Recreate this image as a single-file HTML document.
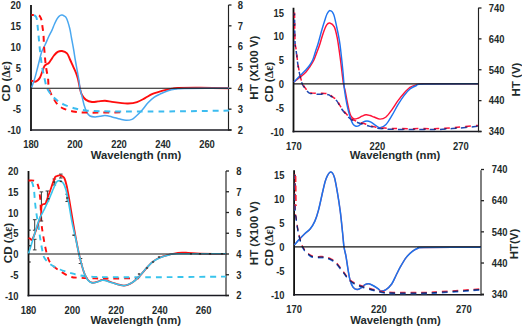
<!DOCTYPE html>
<html><head><meta charset="utf-8"><style>
html,body{margin:0;padding:0;background:#fff;width:522px;height:328px;overflow:hidden}
svg{display:block}
</style></head><body>
<svg width="522" height="328" viewBox="0 0 522 328">
<rect width="522" height="328" fill="#fff"/>
<line x1="31" y1="5" x2="31" y2="130.9" stroke="#111" stroke-width="1.8"/>
<line x1="30.1" y1="130" x2="231.5" y2="130" stroke="#1a1a22" stroke-width="1.45"/>
<line x1="228.5" y1="5" x2="228.5" y2="130.7" stroke="#222" stroke-width="1.15"/>
<line x1="228.5" y1="5.0" x2="231.5" y2="5.0" stroke="#222" stroke-width="1.3"/>
<line x1="228.5" y1="25.83" x2="231.5" y2="25.83" stroke="#222" stroke-width="1.3"/>
<line x1="228.5" y1="46.67" x2="231.5" y2="46.67" stroke="#222" stroke-width="1.3"/>
<line x1="228.5" y1="67.5" x2="231.5" y2="67.5" stroke="#222" stroke-width="1.3"/>
<line x1="228.5" y1="88.33" x2="231.5" y2="88.33" stroke="#222" stroke-width="1.3"/>
<line x1="228.5" y1="109.16" x2="231.5" y2="109.16" stroke="#222" stroke-width="1.3"/>
<line x1="228.5" y1="130.0" x2="231.5" y2="130.0" stroke="#222" stroke-width="1.3"/>
<text x="21" y="9.07" font-size="10.0" text-anchor="end" fill="#1e2b2b" font-family="Liberation Sans, sans-serif" font-weight="bold" textLength="10.45" lengthAdjust="spacingAndGlyphs">20</text>
<text x="21" y="29.9" font-size="10.0" text-anchor="end" fill="#1e2b2b" font-family="Liberation Sans, sans-serif" font-weight="bold" textLength="10.45" lengthAdjust="spacingAndGlyphs">15</text>
<text x="21" y="50.73" font-size="10.0" text-anchor="end" fill="#1e2b2b" font-family="Liberation Sans, sans-serif" font-weight="bold" textLength="10.45" lengthAdjust="spacingAndGlyphs">10</text>
<text x="21" y="71.57" font-size="10.0" text-anchor="end" fill="#1e2b2b" font-family="Liberation Sans, sans-serif" font-weight="bold" textLength="5.23" lengthAdjust="spacingAndGlyphs">5</text>
<text x="21" y="92.4" font-size="10.0" text-anchor="end" fill="#1e2b2b" font-family="Liberation Sans, sans-serif" font-weight="bold" textLength="5.23" lengthAdjust="spacingAndGlyphs">0</text>
<text x="21" y="113.23" font-size="10.0" text-anchor="end" fill="#1e2b2b" font-family="Liberation Sans, sans-serif" font-weight="bold" textLength="8.36" lengthAdjust="spacingAndGlyphs">-5</text>
<text x="21" y="134.07" font-size="10.0" text-anchor="end" fill="#1e2b2b" font-family="Liberation Sans, sans-serif" font-weight="bold" textLength="13.58" lengthAdjust="spacingAndGlyphs">-10</text>
<text x="237.8" y="8.8" font-size="10.0" text-anchor="start" fill="#1e2b2b" font-family="Liberation Sans, sans-serif" font-weight="bold" textLength="5.23" lengthAdjust="spacingAndGlyphs">8</text>
<text x="237.8" y="29.63" font-size="10.0" text-anchor="start" fill="#1e2b2b" font-family="Liberation Sans, sans-serif" font-weight="bold" textLength="5.23" lengthAdjust="spacingAndGlyphs">7</text>
<text x="237.8" y="50.47" font-size="10.0" text-anchor="start" fill="#1e2b2b" font-family="Liberation Sans, sans-serif" font-weight="bold" textLength="5.23" lengthAdjust="spacingAndGlyphs">6</text>
<text x="237.8" y="71.3" font-size="10.0" text-anchor="start" fill="#1e2b2b" font-family="Liberation Sans, sans-serif" font-weight="bold" textLength="5.23" lengthAdjust="spacingAndGlyphs">5</text>
<text x="237.8" y="92.13" font-size="10.0" text-anchor="start" fill="#1e2b2b" font-family="Liberation Sans, sans-serif" font-weight="bold" textLength="5.23" lengthAdjust="spacingAndGlyphs">4</text>
<text x="237.8" y="112.96" font-size="10.0" text-anchor="start" fill="#1e2b2b" font-family="Liberation Sans, sans-serif" font-weight="bold" textLength="5.23" lengthAdjust="spacingAndGlyphs">3</text>
<text x="237.8" y="133.8" font-size="10.0" text-anchor="start" fill="#1e2b2b" font-family="Liberation Sans, sans-serif" font-weight="bold" textLength="5.23" lengthAdjust="spacingAndGlyphs">2</text>
<text x="31" y="148.1" font-size="10.0" text-anchor="middle" fill="#1e2b2b" font-family="Liberation Sans, sans-serif" font-weight="bold" textLength="15.68" lengthAdjust="spacingAndGlyphs">180</text>
<text x="75" y="148.1" font-size="10.0" text-anchor="middle" fill="#1e2b2b" font-family="Liberation Sans, sans-serif" font-weight="bold" textLength="15.68" lengthAdjust="spacingAndGlyphs">200</text>
<text x="119" y="148.1" font-size="10.0" text-anchor="middle" fill="#1e2b2b" font-family="Liberation Sans, sans-serif" font-weight="bold" textLength="15.68" lengthAdjust="spacingAndGlyphs">220</text>
<text x="163" y="148.1" font-size="10.0" text-anchor="middle" fill="#1e2b2b" font-family="Liberation Sans, sans-serif" font-weight="bold" textLength="15.68" lengthAdjust="spacingAndGlyphs">240</text>
<text x="207" y="148.1" font-size="10.0" text-anchor="middle" fill="#1e2b2b" font-family="Liberation Sans, sans-serif" font-weight="bold" textLength="15.68" lengthAdjust="spacingAndGlyphs">260</text>
<text x="10.2" y="81.3" font-size="11.6" text-anchor="middle" fill="#1e2b2b" font-family="Liberation Sans, sans-serif" font-weight="bold" transform="rotate(-90 10.2 81.3)">CD (<tspan font-family="Liberation Serif, serif" font-weight="bold" font-size="12">&#916;&#949;</tspan>)</text>
<text x="258.5" y="67.7" font-size="11.5" text-anchor="middle" fill="#1e2b2b" font-family="Liberation Sans, sans-serif" font-weight="bold" transform="rotate(-90 258.5 67.7)">HT (X100 V)</text>
<text x="136" y="158.6" font-size="11.8" text-anchor="middle" fill="#1e2b2b" font-family="Liberation Sans, sans-serif" font-weight="bold" textLength="90.5" lengthAdjust="spacingAndGlyphs">Wavelength (nm)</text>
<path d="M31.00 80.60 C31.33 80.70 32.33 81.00 33.00 81.20 C33.67 81.40 34.25 81.92 35.00 81.80 C35.75 81.68 36.67 81.22 37.50 80.50 C38.33 79.78 39.17 79.08 40.00 77.50 C40.83 75.92 41.75 72.92 42.50 71.00 C43.25 69.08 43.83 67.12 44.50 66.00 C45.17 64.88 45.83 64.75 46.50 64.30 C47.17 63.85 47.77 64.02 48.50 63.30 C49.23 62.58 49.98 61.30 50.90 60.00 C51.82 58.70 52.87 56.85 54.00 55.50 C55.13 54.15 56.37 52.65 57.70 51.90 C59.03 51.15 60.45 50.75 62.00 51.00 C63.55 51.25 65.67 51.98 67.00 53.40 C68.33 54.82 69.00 57.37 70.00 59.50 C71.00 61.63 72.00 63.97 73.00 66.20 C74.00 68.43 75.17 70.77 76.00 72.90 C76.83 75.03 77.33 76.33 78.00 79.00 C78.67 81.67 79.33 86.23 80.00 88.90 C80.67 91.57 81.00 93.17 82.00 95.00 C83.00 96.83 84.33 98.73 86.00 99.90 C87.67 101.07 90.00 101.75 92.00 102.00 C94.00 102.25 95.83 101.62 98.00 101.40 C100.17 101.18 102.67 100.62 105.00 100.70 C107.33 100.78 109.50 101.53 112.00 101.90 C114.50 102.27 117.33 102.63 120.00 102.90 C122.67 103.17 125.17 103.63 128.00 103.50 C130.83 103.37 134.17 103.00 137.00 102.10 C139.83 101.20 142.50 99.43 145.00 98.10 C147.50 96.77 149.83 95.10 152.00 94.10 C154.17 93.10 155.83 92.77 158.00 92.10 C160.17 91.43 162.67 90.67 165.00 90.10 C167.33 89.53 169.83 89.05 172.00 88.70 C174.17 88.35 173.33 88.15 178.00 88.00 C182.67 87.85 191.50 87.77 200.00 87.80 C208.50 87.83 224.17 88.13 229.00 88.20" fill="none" stroke="#ff0d0d" stroke-width="1.9" stroke-linejoin="round"/>
<path d="M31.70 87.50 C32.23 85.90 33.93 81.15 34.90 77.90 C35.87 74.65 36.73 70.98 37.50 68.00 C38.27 65.02 38.80 62.72 39.50 60.00 C40.20 57.28 40.78 54.20 41.70 51.70 C42.62 49.20 43.78 47.62 45.00 45.00 C46.22 42.38 47.83 38.48 49.00 36.00 C50.17 33.52 51.08 32.10 52.00 30.10 C52.92 28.10 53.68 25.83 54.50 24.00 C55.32 22.17 56.15 20.38 56.90 19.10 C57.65 17.82 58.19 16.97 59.00 16.30 C59.81 15.63 60.92 15.18 61.75 15.10 C62.58 15.02 63.19 15.23 64.00 15.80 C64.81 16.37 65.65 16.42 66.60 18.50 C67.55 20.58 68.88 25.05 69.70 28.30 C70.52 31.55 70.83 34.38 71.50 38.00 C72.17 41.62 73.07 46.33 73.70 50.00 C74.33 53.67 74.43 55.00 75.30 60.00 C76.17 65.00 78.12 75.25 78.90 80.00 C79.68 84.75 79.48 85.80 80.00 88.50 C80.52 91.20 81.33 93.50 82.00 96.20 C82.67 98.90 83.17 101.95 84.00 104.70 C84.83 107.45 86.00 110.82 87.00 112.70 C88.00 114.58 88.67 115.30 90.00 116.00 C91.33 116.70 93.33 116.85 95.00 116.90 C96.67 116.95 98.33 116.53 100.00 116.30 C101.67 116.07 103.00 115.40 105.00 115.50 C107.00 115.60 109.50 116.30 112.00 116.90 C114.50 117.50 117.67 118.53 120.00 119.10 C122.33 119.67 124.00 120.25 126.00 120.30 C128.00 120.35 130.33 120.08 132.00 119.40 C133.67 118.72 134.33 117.73 136.00 116.20 C137.67 114.67 140.00 112.43 142.00 110.20 C144.00 107.97 146.00 104.93 148.00 102.80 C150.00 100.67 152.00 98.85 154.00 97.40 C156.00 95.95 157.67 95.22 160.00 94.10 C162.33 92.98 165.33 91.53 168.00 90.70 C170.67 89.87 173.33 89.48 176.00 89.10 C178.67 88.72 175.17 88.53 184.00 88.40 C192.83 88.27 221.50 88.32 229.00 88.30" fill="none" stroke="#4aa8f0" stroke-width="1.5" stroke-linejoin="round"/>
<path d="M31.50 15.00 C32.58 15.00 36.58 14.75 38.00 15.00 C39.42 15.25 39.42 15.67 40.00 16.50 C40.58 17.33 41.08 18.25 41.50 20.00 C41.92 21.75 42.17 24.50 42.50 27.00 C42.83 29.50 43.25 31.83 43.50 35.00 C43.75 38.17 43.78 42.67 44.00 46.00 C44.22 49.33 44.58 52.50 44.80 55.00 C45.02 57.50 45.02 58.50 45.30 61.00 C45.58 63.50 46.05 67.17 46.50 70.00 C46.95 72.83 47.58 74.88 48.00 78.00 C48.42 81.12 48.17 85.45 49.00 88.70 C49.83 91.95 51.58 94.90 53.00 97.50 C54.42 100.10 55.75 102.45 57.50 104.30 C59.25 106.15 60.92 107.42 63.50 108.60 C66.08 109.78 69.58 110.75 73.00 111.40 C76.42 112.05 79.50 112.30 84.00 112.50 C88.50 112.70 93.83 112.63 100.00 112.60 C106.17 112.57 117.50 112.35 121.00 112.30" fill="none" stroke="#ff0d0d" stroke-width="2.0" stroke-dasharray="5.8 5" stroke-dashoffset="3.4" stroke-linejoin="round"/>
<path d="M31.50 15.00 C31.92 15.03 33.25 14.92 34.00 15.20 C34.75 15.48 35.50 15.90 36.00 16.70 C36.50 17.50 36.72 18.28 37.00 20.00 C37.28 21.72 37.45 24.50 37.70 27.00 C37.95 29.50 38.20 31.83 38.50 35.00 C38.80 38.17 39.17 42.67 39.50 46.00 C39.83 49.33 40.08 51.67 40.50 55.00 C40.92 58.33 41.42 62.50 42.00 66.00 C42.58 69.50 43.17 72.33 44.00 76.00 C44.83 79.67 45.67 84.75 47.00 88.00 C48.33 91.25 50.33 93.45 52.00 95.50 C53.67 97.55 55.00 98.78 57.00 100.30 C59.00 101.82 61.17 103.28 64.00 104.60 C66.83 105.92 70.67 107.27 74.00 108.20 C77.33 109.13 79.67 109.70 84.00 110.20 C88.33 110.70 89.00 110.97 100.00 111.20 C111.00 111.43 128.50 111.70 150.00 111.60 C171.50 111.50 215.83 110.77 229.00 110.60" fill="none" stroke="#3cbcf0" stroke-width="2.0" stroke-dasharray="5.8 5" stroke-dashoffset="8.2" stroke-linejoin="round"/>
<line x1="293.5" y1="7.75" x2="293.5" y2="132.4" stroke="#111" stroke-width="1.8"/>
<line x1="292.6" y1="131.5" x2="481.5" y2="131.5" stroke="#1a1a22" stroke-width="1.45"/>
<line x1="478.5" y1="7.75" x2="478.5" y2="132.2" stroke="#222" stroke-width="1.15"/>
<line x1="478.5" y1="8.0" x2="481.5" y2="8.0" stroke="#222" stroke-width="1.3"/>
<line x1="478.5" y1="38.88" x2="481.5" y2="38.88" stroke="#222" stroke-width="1.3"/>
<line x1="478.5" y1="69.75" x2="481.5" y2="69.75" stroke="#222" stroke-width="1.3"/>
<line x1="478.5" y1="100.63" x2="481.5" y2="100.63" stroke="#222" stroke-width="1.3"/>
<line x1="478.5" y1="131.5" x2="481.5" y2="131.5" stroke="#222" stroke-width="1.3"/>
<text x="284" y="16.6" font-size="10.0" text-anchor="end" fill="#1e2b2b" font-family="Liberation Sans, sans-serif" font-weight="bold" textLength="10.45" lengthAdjust="spacingAndGlyphs">15</text>
<text x="284" y="40.4" font-size="10.0" text-anchor="end" fill="#1e2b2b" font-family="Liberation Sans, sans-serif" font-weight="bold" textLength="10.45" lengthAdjust="spacingAndGlyphs">10</text>
<text x="284" y="64.2" font-size="10.0" text-anchor="end" fill="#1e2b2b" font-family="Liberation Sans, sans-serif" font-weight="bold" textLength="5.23" lengthAdjust="spacingAndGlyphs">5</text>
<text x="284" y="88.0" font-size="10.0" text-anchor="end" fill="#1e2b2b" font-family="Liberation Sans, sans-serif" font-weight="bold" textLength="5.23" lengthAdjust="spacingAndGlyphs">0</text>
<text x="284" y="111.8" font-size="10.0" text-anchor="end" fill="#1e2b2b" font-family="Liberation Sans, sans-serif" font-weight="bold" textLength="8.36" lengthAdjust="spacingAndGlyphs">-5</text>
<text x="284" y="135.6" font-size="10.0" text-anchor="end" fill="#1e2b2b" font-family="Liberation Sans, sans-serif" font-weight="bold" textLength="13.58" lengthAdjust="spacingAndGlyphs">-10</text>
<text x="488.8" y="11.8" font-size="10.0" text-anchor="start" fill="#1e2b2b" font-family="Liberation Sans, sans-serif" font-weight="bold" textLength="15.68" lengthAdjust="spacingAndGlyphs">740</text>
<text x="488.8" y="42.67" font-size="10.0" text-anchor="start" fill="#1e2b2b" font-family="Liberation Sans, sans-serif" font-weight="bold" textLength="15.68" lengthAdjust="spacingAndGlyphs">640</text>
<text x="488.8" y="73.55" font-size="10.0" text-anchor="start" fill="#1e2b2b" font-family="Liberation Sans, sans-serif" font-weight="bold" textLength="15.68" lengthAdjust="spacingAndGlyphs">540</text>
<text x="488.8" y="104.43" font-size="10.0" text-anchor="start" fill="#1e2b2b" font-family="Liberation Sans, sans-serif" font-weight="bold" textLength="15.68" lengthAdjust="spacingAndGlyphs">440</text>
<text x="488.8" y="135.3" font-size="10.0" text-anchor="start" fill="#1e2b2b" font-family="Liberation Sans, sans-serif" font-weight="bold" textLength="15.68" lengthAdjust="spacingAndGlyphs">340</text>
<text x="293.9" y="149.6" font-size="10.0" text-anchor="middle" fill="#1e2b2b" font-family="Liberation Sans, sans-serif" font-weight="bold" textLength="15.68" lengthAdjust="spacingAndGlyphs">170</text>
<text x="377.4" y="149.6" font-size="10.0" text-anchor="middle" fill="#1e2b2b" font-family="Liberation Sans, sans-serif" font-weight="bold" textLength="15.68" lengthAdjust="spacingAndGlyphs">220</text>
<text x="460.9" y="149.6" font-size="10.0" text-anchor="middle" fill="#1e2b2b" font-family="Liberation Sans, sans-serif" font-weight="bold" textLength="15.68" lengthAdjust="spacingAndGlyphs">270</text>
<text x="273.4" y="82" font-size="11.6" text-anchor="middle" fill="#1e2b2b" font-family="Liberation Sans, sans-serif" font-weight="bold" transform="rotate(-90 273.4 82)">CD (<tspan font-family="Liberation Serif, serif" font-weight="bold" font-size="12">&#916;&#949;</tspan>)</text>
<text x="519.8" y="79.5" font-size="11.5" text-anchor="middle" fill="#1e2b2b" font-family="Liberation Sans, sans-serif" font-weight="bold" transform="rotate(-90 519.8 79.5)">HT (V)</text>
<text x="395" y="158.6" font-size="11.8" text-anchor="middle" fill="#1e2b2b" font-family="Liberation Sans, sans-serif" font-weight="bold" textLength="90.5" lengthAdjust="spacingAndGlyphs">Wavelength (nm)</text>
<path d="M294.00 81.90 C295.00 81.13 298.00 78.95 300.00 77.30 C302.00 75.65 304.33 73.80 306.00 72.00 C307.67 70.20 308.68 68.50 310.00 66.50 C311.32 64.50 312.77 62.33 313.90 60.00 C315.03 57.67 315.88 54.90 316.80 52.50 C317.72 50.10 318.35 48.78 319.40 45.60 C320.45 42.42 321.88 36.85 323.10 33.40 C324.32 29.95 325.58 26.63 326.70 24.90 C327.82 23.17 328.53 22.68 329.80 23.00 C331.07 23.32 333.07 24.35 334.30 26.80 C335.53 29.25 336.35 33.50 337.20 37.70 C338.05 41.90 338.77 47.62 339.40 52.00 C340.03 56.38 340.33 58.75 341.00 64.00 C341.67 69.25 342.73 79.17 343.40 83.50 C344.07 87.83 344.40 87.13 345.00 90.00 C345.60 92.87 346.33 97.35 347.00 100.70 C347.67 104.05 348.33 107.52 349.00 110.10 C349.67 112.68 350.17 114.73 351.00 116.20 C351.83 117.67 352.83 118.57 354.00 118.90 C355.17 119.23 356.67 118.65 358.00 118.20 C359.33 117.75 360.67 116.77 362.00 116.20 C363.33 115.63 364.67 114.92 366.00 114.80 C367.33 114.68 368.67 115.13 370.00 115.50 C371.33 115.87 372.33 116.40 374.00 117.00 C375.67 117.60 378.00 119.10 380.00 119.10 C382.00 119.10 384.00 118.58 386.00 117.00 C388.00 115.42 390.00 112.33 392.00 109.60 C394.00 106.87 396.00 103.33 398.00 100.60 C400.00 97.87 402.00 95.40 404.00 93.20 C406.00 91.00 408.00 88.78 410.00 87.40 C412.00 86.02 413.67 85.50 416.00 84.90 C418.33 84.30 413.67 84.00 424.00 83.80 C434.33 83.60 469.00 83.72 478.00 83.70" fill="none" stroke="#ff1238" stroke-width="1.45" stroke-linejoin="round"/>
<path d="M294.00 81.90 C295.00 80.88 298.00 77.83 300.00 75.80 C302.00 73.77 304.42 71.42 306.00 69.70 C307.58 67.98 308.38 67.12 309.50 65.50 C310.62 63.88 311.70 62.33 312.70 60.00 C313.70 57.67 314.58 54.30 315.50 51.50 C316.42 48.70 317.13 46.82 318.20 43.20 C319.27 39.58 320.78 33.67 321.90 29.80 C323.02 25.93 324.05 22.63 324.90 20.00 C325.75 17.37 326.15 15.57 327.00 14.00 C327.85 12.43 328.90 10.57 330.00 10.60 C331.10 10.63 332.52 11.63 333.60 14.20 C334.68 16.77 335.53 21.60 336.50 26.00 C337.47 30.40 338.67 36.27 339.40 40.60 C340.13 44.93 340.30 46.77 340.90 52.00 C341.50 57.23 342.40 65.67 343.00 72.00 C343.60 78.33 343.83 84.53 344.50 90.00 C345.17 95.47 346.08 100.33 347.00 104.80 C347.92 109.27 349.00 113.57 350.00 116.80 C351.00 120.03 352.00 122.63 353.00 124.20 C354.00 125.77 355.00 125.97 356.00 126.20 C357.00 126.43 357.83 126.27 359.00 125.60 C360.17 124.93 361.67 122.98 363.00 122.20 C364.33 121.42 365.67 120.90 367.00 120.90 C368.33 120.90 369.50 121.42 371.00 122.20 C372.50 122.98 374.50 124.68 376.00 125.60 C377.50 126.52 378.33 127.90 380.00 127.70 C381.67 127.50 384.00 126.45 386.00 124.40 C388.00 122.35 390.00 118.68 392.00 115.40 C394.00 112.12 396.00 108.00 398.00 104.70 C400.00 101.40 402.00 98.22 404.00 95.60 C406.00 92.98 408.00 90.63 410.00 89.00 C412.00 87.37 413.67 86.63 416.00 85.80 C418.33 84.97 413.67 84.35 424.00 84.00 C434.33 83.65 469.00 83.75 478.00 83.70" fill="none" stroke="#1f74f0" stroke-width="1.45" stroke-linejoin="round"/>
<path d="M294.50 13.00 C294.58 17.75 294.75 35.48 295.00 41.50 C295.25 47.52 295.58 45.80 296.00 49.10 C296.42 52.40 297.00 57.73 297.50 61.30 C298.00 64.87 298.42 67.45 299.00 70.50 C299.58 73.55 300.33 77.18 301.00 79.60 C301.67 82.02 302.00 83.17 303.00 85.00 C304.00 86.83 305.83 89.28 307.00 90.60 C308.17 91.92 308.50 92.38 310.00 92.90 C311.50 93.42 313.50 93.55 316.00 93.70 C318.50 93.85 322.83 93.68 325.00 93.80 C327.17 93.92 327.67 93.78 329.00 94.40 C330.33 95.02 331.67 96.47 333.00 97.50 C334.33 98.53 335.83 99.17 337.00 100.60 C338.17 102.03 338.83 104.28 340.00 106.10 C341.17 107.92 342.67 109.82 344.00 111.50 C345.33 113.18 346.67 114.87 348.00 116.20 C349.33 117.53 350.33 118.50 352.00 119.50 C353.67 120.50 355.67 121.35 358.00 122.20 C360.33 123.05 363.00 123.70 366.00 124.60 C369.00 125.50 372.83 126.95 376.00 127.60 C379.17 128.25 381.00 128.27 385.00 128.50 C389.00 128.73 393.50 128.92 400.00 129.00 C406.50 129.08 417.67 129.00 424.00 129.00 C430.33 129.00 432.42 129.22 438.00 129.00 C443.58 128.78 450.83 128.23 457.50 127.70 C464.17 127.17 474.58 126.12 478.00 125.80" fill="none" stroke="#1e45b0" stroke-width="1.5" stroke-dasharray="5.5 5" stroke-dashoffset="4.2" transform="translate(0 0.5)" stroke-linejoin="round"/>
<path d="M294.50 13.00 C294.58 17.75 294.75 35.48 295.00 41.50 C295.25 47.52 295.58 45.80 296.00 49.10 C296.42 52.40 297.00 57.73 297.50 61.30 C298.00 64.87 298.42 67.45 299.00 70.50 C299.58 73.55 300.33 77.18 301.00 79.60 C301.67 82.02 302.00 83.17 303.00 85.00 C304.00 86.83 305.83 89.28 307.00 90.60 C308.17 91.92 308.50 92.38 310.00 92.90 C311.50 93.42 313.50 93.55 316.00 93.70 C318.50 93.85 322.83 93.68 325.00 93.80 C327.17 93.92 327.67 93.78 329.00 94.40 C330.33 95.02 331.67 96.47 333.00 97.50 C334.33 98.53 335.83 99.17 337.00 100.60 C338.17 102.03 338.83 104.28 340.00 106.10 C341.17 107.92 342.67 109.82 344.00 111.50 C345.33 113.18 346.67 114.87 348.00 116.20 C349.33 117.53 350.33 118.50 352.00 119.50 C353.67 120.50 355.67 121.35 358.00 122.20 C360.33 123.05 363.00 123.70 366.00 124.60 C369.00 125.50 372.83 126.95 376.00 127.60 C379.17 128.25 381.00 128.27 385.00 128.50 C389.00 128.73 393.50 128.92 400.00 129.00 C406.50 129.08 417.67 129.00 424.00 129.00 C430.33 129.00 432.42 129.22 438.00 129.00 C443.58 128.78 450.83 128.23 457.50 127.70 C464.17 127.17 474.58 126.12 478.00 125.80" fill="none" stroke="#ff1238" stroke-width="1.5" stroke-dasharray="5.5 5" transform="translate(0 -0.4)" stroke-linejoin="round"/>
<path d="M294.50 13.00 C294.58 17.75 294.75 35.48 295.00 41.50 C295.25 47.52 295.58 45.80 296.00 49.10 C296.42 52.40 297.00 57.73 297.50 61.30 C298.00 64.87 298.42 67.45 299.00 70.50 C299.58 73.55 300.33 77.18 301.00 79.60 C301.67 82.02 302.00 83.17 303.00 85.00 C304.00 86.83 305.83 89.28 307.00 90.60 C308.17 91.92 308.50 92.38 310.00 92.90 C311.50 93.42 313.50 93.55 316.00 93.70 C318.50 93.85 322.83 93.68 325.00 93.80 C327.17 93.92 327.67 93.78 329.00 94.40 C330.33 95.02 331.67 96.47 333.00 97.50 C334.33 98.53 335.83 99.17 337.00 100.60 C338.17 102.03 338.83 104.28 340.00 106.10 C341.17 107.92 342.67 109.82 344.00 111.50 C345.33 113.18 346.67 114.87 348.00 116.20 C349.33 117.53 350.33 118.50 352.00 119.50 C353.67 120.50 355.67 121.35 358.00 122.20 C360.33 123.05 363.00 123.70 366.00 124.60 C369.00 125.50 372.83 126.95 376.00 127.60 C379.17 128.25 381.00 128.27 385.00 128.50 C389.00 128.73 393.50 128.92 400.00 129.00 C406.50 129.08 417.67 129.00 424.00 129.00 C430.33 129.00 432.42 129.22 438.00 129.00 C443.58 128.78 450.83 128.23 457.50 127.70 C464.17 127.17 474.58 126.12 478.00 125.80" fill="none" stroke="#1a2a70" stroke-width="1.2" stroke-dasharray="2 8.5" stroke-dashoffset="-0.3" transform="translate(0 0.2)" stroke-linejoin="round"/>
<line x1="28.5" y1="171" x2="28.5" y2="296.4" stroke="#111" stroke-width="1.8"/>
<line x1="27.6" y1="295.5" x2="229" y2="295.5" stroke="#1a1a22" stroke-width="1.45"/>
<line x1="226" y1="171" x2="226" y2="296.2" stroke="#222" stroke-width="1.15"/>
<line x1="226" y1="171.0" x2="229" y2="171.0" stroke="#222" stroke-width="1.3"/>
<line x1="226" y1="191.75" x2="229" y2="191.75" stroke="#222" stroke-width="1.3"/>
<line x1="226" y1="212.5" x2="229" y2="212.5" stroke="#222" stroke-width="1.3"/>
<line x1="226" y1="233.25" x2="229" y2="233.25" stroke="#222" stroke-width="1.3"/>
<line x1="226" y1="254.0" x2="229" y2="254.0" stroke="#222" stroke-width="1.3"/>
<line x1="226" y1="274.75" x2="229" y2="274.75" stroke="#222" stroke-width="1.3"/>
<line x1="226" y1="295.5" x2="229" y2="295.5" stroke="#222" stroke-width="1.3"/>
<text x="18.5" y="175.04" font-size="10.0" text-anchor="end" fill="#1e2b2b" font-family="Liberation Sans, sans-serif" font-weight="bold" textLength="10.45" lengthAdjust="spacingAndGlyphs">20</text>
<text x="18.5" y="195.81" font-size="10.0" text-anchor="end" fill="#1e2b2b" font-family="Liberation Sans, sans-serif" font-weight="bold" textLength="10.45" lengthAdjust="spacingAndGlyphs">15</text>
<text x="18.5" y="216.57" font-size="10.0" text-anchor="end" fill="#1e2b2b" font-family="Liberation Sans, sans-serif" font-weight="bold" textLength="10.45" lengthAdjust="spacingAndGlyphs">10</text>
<text x="18.5" y="237.34" font-size="10.0" text-anchor="end" fill="#1e2b2b" font-family="Liberation Sans, sans-serif" font-weight="bold" textLength="5.23" lengthAdjust="spacingAndGlyphs">5</text>
<text x="18.5" y="258.1" font-size="10.0" text-anchor="end" fill="#1e2b2b" font-family="Liberation Sans, sans-serif" font-weight="bold" textLength="5.23" lengthAdjust="spacingAndGlyphs">0</text>
<text x="18.5" y="278.87" font-size="10.0" text-anchor="end" fill="#1e2b2b" font-family="Liberation Sans, sans-serif" font-weight="bold" textLength="8.36" lengthAdjust="spacingAndGlyphs">-5</text>
<text x="18.5" y="299.63" font-size="10.0" text-anchor="end" fill="#1e2b2b" font-family="Liberation Sans, sans-serif" font-weight="bold" textLength="13.58" lengthAdjust="spacingAndGlyphs">-10</text>
<text x="236.3" y="174.8" font-size="10.0" text-anchor="start" fill="#1e2b2b" font-family="Liberation Sans, sans-serif" font-weight="bold" textLength="5.23" lengthAdjust="spacingAndGlyphs">8</text>
<text x="236.3" y="195.55" font-size="10.0" text-anchor="start" fill="#1e2b2b" font-family="Liberation Sans, sans-serif" font-weight="bold" textLength="5.23" lengthAdjust="spacingAndGlyphs">7</text>
<text x="236.3" y="216.3" font-size="10.0" text-anchor="start" fill="#1e2b2b" font-family="Liberation Sans, sans-serif" font-weight="bold" textLength="5.23" lengthAdjust="spacingAndGlyphs">6</text>
<text x="236.3" y="237.05" font-size="10.0" text-anchor="start" fill="#1e2b2b" font-family="Liberation Sans, sans-serif" font-weight="bold" textLength="5.23" lengthAdjust="spacingAndGlyphs">5</text>
<text x="236.3" y="257.8" font-size="10.0" text-anchor="start" fill="#1e2b2b" font-family="Liberation Sans, sans-serif" font-weight="bold" textLength="5.23" lengthAdjust="spacingAndGlyphs">4</text>
<text x="236.3" y="278.55" font-size="10.0" text-anchor="start" fill="#1e2b2b" font-family="Liberation Sans, sans-serif" font-weight="bold" textLength="5.23" lengthAdjust="spacingAndGlyphs">3</text>
<text x="236.3" y="299.3" font-size="10.0" text-anchor="start" fill="#1e2b2b" font-family="Liberation Sans, sans-serif" font-weight="bold" textLength="5.23" lengthAdjust="spacingAndGlyphs">2</text>
<text x="28.5" y="313.6" font-size="10.0" text-anchor="middle" fill="#1e2b2b" font-family="Liberation Sans, sans-serif" font-weight="bold" textLength="15.68" lengthAdjust="spacingAndGlyphs">180</text>
<text x="72.3" y="313.6" font-size="10.0" text-anchor="middle" fill="#1e2b2b" font-family="Liberation Sans, sans-serif" font-weight="bold" textLength="15.68" lengthAdjust="spacingAndGlyphs">200</text>
<text x="116.1" y="313.6" font-size="10.0" text-anchor="middle" fill="#1e2b2b" font-family="Liberation Sans, sans-serif" font-weight="bold" textLength="15.68" lengthAdjust="spacingAndGlyphs">220</text>
<text x="159.9" y="313.6" font-size="10.0" text-anchor="middle" fill="#1e2b2b" font-family="Liberation Sans, sans-serif" font-weight="bold" textLength="15.68" lengthAdjust="spacingAndGlyphs">240</text>
<text x="203.7" y="313.6" font-size="10.0" text-anchor="middle" fill="#1e2b2b" font-family="Liberation Sans, sans-serif" font-weight="bold" textLength="15.68" lengthAdjust="spacingAndGlyphs">260</text>
<text x="12.0" y="243" font-size="11.6" text-anchor="middle" fill="#1e2b2b" font-family="Liberation Sans, sans-serif" font-weight="bold" transform="rotate(-90 12.0 243)">CD (<tspan font-family="Liberation Serif, serif" font-weight="bold" font-size="12">&#916;&#949;</tspan>)</text>
<text x="257.7" y="233.2" font-size="11.5" text-anchor="middle" fill="#1e2b2b" font-family="Liberation Sans, sans-serif" font-weight="bold" transform="rotate(-90 257.7 233.2)">HT (X100 V)</text>
<text x="135.8" y="323.6" font-size="11.8" text-anchor="middle" fill="#1e2b2b" font-family="Liberation Sans, sans-serif" font-weight="bold" textLength="90.5" lengthAdjust="spacingAndGlyphs">Wavelength (nm)</text>
<path d="M28.50 180.50 C29.42 180.52 32.67 180.35 34.00 180.60 C35.33 180.85 35.75 180.93 36.50 182.00 C37.25 183.07 38.00 185.17 38.50 187.00 C39.00 188.83 39.20 190.83 39.50 193.00 C39.80 195.17 39.97 194.97 40.30 200.00 C40.63 205.03 41.05 217.47 41.50 223.20 C41.95 228.93 42.42 230.65 43.00 234.40 C43.58 238.15 44.17 241.77 45.00 245.70 C45.83 249.63 46.83 254.78 48.00 258.00 C49.17 261.22 50.00 262.83 52.00 265.00 C54.00 267.17 57.00 269.07 60.00 271.00 C63.00 272.93 66.67 275.47 70.00 276.60 C73.33 277.73 75.83 277.50 80.00 277.80 C84.17 278.10 90.00 278.28 95.00 278.40 C100.00 278.52 102.67 278.52 110.00 278.50 C117.33 278.48 134.17 278.33 139.00 278.30" fill="none" stroke="#ff0d0d" stroke-width="1.9" stroke-dasharray="5.6 5" stroke-linejoin="round"/>
<path d="M28.50 180.50 C28.92 180.58 30.33 180.50 31.00 181.00 C31.67 181.50 32.00 182.00 32.50 183.50 C33.00 185.00 33.58 186.92 34.00 190.00 C34.42 193.08 34.58 198.00 35.00 202.00 C35.42 206.00 35.92 210.00 36.50 214.00 C37.08 218.00 37.92 222.13 38.50 226.00 C39.08 229.87 39.33 232.98 40.00 237.20 C40.67 241.42 41.75 247.83 42.50 251.30 C43.25 254.77 43.25 255.88 44.50 258.00 C45.75 260.12 47.42 262.08 50.00 264.00 C52.58 265.92 56.67 268.03 60.00 269.50 C63.33 270.97 66.67 271.82 70.00 272.80 C73.33 273.78 75.83 274.72 80.00 275.40 C84.17 276.08 90.00 276.62 95.00 276.90 C100.00 277.18 101.67 277.03 110.00 277.10 C118.33 277.17 125.67 277.38 145.00 277.30 C164.33 277.22 212.50 276.72 226.00 276.60" fill="none" stroke="#38c4ec" stroke-width="1.9" stroke-dasharray="5.8 5" stroke-dashoffset="7.4" stroke-linejoin="round"/>
<line x1="34.7" y1="219.7" x2="34.7" y2="230.2" stroke="#3a3a3a" stroke-width="1.0"/>
<line x1="32.9" y1="219.7" x2="36.5" y2="219.7" stroke="#3a3a3a" stroke-width="1.0"/>
<line x1="32.9" y1="230.2" x2="36.5" y2="230.2" stroke="#3a3a3a" stroke-width="1.0"/>
<line x1="34.7" y1="239.3" x2="34.7" y2="249.9" stroke="#3a3a3a" stroke-width="1.0"/>
<line x1="32.9" y1="239.3" x2="36.5" y2="239.3" stroke="#3a3a3a" stroke-width="1.0"/>
<line x1="32.9" y1="249.9" x2="36.5" y2="249.9" stroke="#3a3a3a" stroke-width="1.0"/>
<line x1="41.4" y1="191.9" x2="41.4" y2="221" stroke="#3a3a3a" stroke-width="1.0"/>
<line x1="39.6" y1="191.9" x2="43.2" y2="191.9" stroke="#3a3a3a" stroke-width="1.0"/>
<line x1="39.6" y1="221" x2="43.2" y2="221" stroke="#3a3a3a" stroke-width="1.0"/>
<line x1="47.4" y1="191" x2="47.4" y2="201" stroke="#3a3a3a" stroke-width="1.0"/>
<line x1="45.6" y1="191" x2="49.2" y2="191" stroke="#3a3a3a" stroke-width="1.0"/>
<line x1="45.6" y1="201" x2="49.2" y2="201" stroke="#3a3a3a" stroke-width="1.0"/>
<line x1="54.3" y1="179" x2="54.3" y2="185" stroke="#3a3a3a" stroke-width="1.0"/>
<line x1="52.5" y1="179" x2="56.1" y2="179" stroke="#3a3a3a" stroke-width="1.0"/>
<line x1="52.5" y1="185" x2="56.1" y2="185" stroke="#3a3a3a" stroke-width="1.0"/>
<line x1="60.8" y1="174.1" x2="60.8" y2="178" stroke="#3a3a3a" stroke-width="1.0"/>
<line x1="59.0" y1="174.1" x2="62.6" y2="174.1" stroke="#3a3a3a" stroke-width="1.0"/>
<line x1="59.0" y1="178" x2="62.6" y2="178" stroke="#3a3a3a" stroke-width="1.0"/>
<line x1="67.2" y1="194.2" x2="67.2" y2="201.5" stroke="#3a3a3a" stroke-width="1.0"/>
<line x1="65.4" y1="194.2" x2="69.0" y2="194.2" stroke="#3a3a3a" stroke-width="1.0"/>
<line x1="65.4" y1="201.5" x2="69.0" y2="201.5" stroke="#3a3a3a" stroke-width="1.0"/>
<line x1="80.5" y1="258.5" x2="80.5" y2="263.5" stroke="#3a3a3a" stroke-width="1.0"/>
<line x1="78.7" y1="258.5" x2="82.3" y2="258.5" stroke="#3a3a3a" stroke-width="1.0"/>
<line x1="78.7" y1="263.5" x2="82.3" y2="263.5" stroke="#3a3a3a" stroke-width="1.0"/>
<path d="M28.50 238.00 C28.75 238.10 29.50 238.27 30.00 238.60 C30.50 238.93 31.00 240.10 31.50 240.00 C32.00 239.90 32.42 239.17 33.00 238.00 C33.58 236.83 34.33 234.77 35.00 233.00 C35.67 231.23 36.33 229.38 37.00 227.40 C37.67 225.42 38.33 223.20 39.00 221.10 C39.67 219.00 40.58 217.32 41.00 214.80 C41.42 212.28 41.17 207.75 41.50 206.00 C41.83 204.25 42.30 204.77 43.00 204.30 C43.70 203.83 44.87 204.47 45.70 203.20 C46.53 201.93 47.28 198.70 48.00 196.70 C48.72 194.70 48.93 194.22 50.00 191.20 C51.07 188.18 53.32 181.10 54.40 178.60 C55.48 176.10 55.58 176.75 56.50 176.20 C57.42 175.65 58.90 175.28 59.90 175.30 C60.90 175.32 61.73 175.77 62.50 176.30 C63.27 176.83 63.83 177.05 64.50 178.50 C65.17 179.95 65.97 182.93 66.50 185.00 C67.03 187.07 67.28 188.73 67.70 190.90 C68.12 193.07 68.63 195.92 69.00 198.00 C69.37 200.08 69.23 199.40 69.90 203.40 C70.57 207.40 71.98 216.07 73.00 222.00 C74.02 227.93 75.00 233.67 76.00 239.00 C77.00 244.33 78.00 249.52 79.00 254.00 C80.00 258.48 81.00 262.40 82.00 265.90 C83.00 269.40 84.00 272.65 85.00 275.00 C86.00 277.35 86.83 278.72 88.00 280.00 C89.17 281.28 90.50 282.38 92.00 282.70 C93.50 283.02 95.33 282.35 97.00 281.90 C98.67 281.45 100.50 280.25 102.00 280.00 C103.50 279.75 104.33 279.98 106.00 280.40 C107.67 280.82 109.00 281.63 112.00 282.50 C115.00 283.37 120.50 285.68 124.00 285.60 C127.50 285.52 130.47 283.52 133.00 282.00 C135.53 280.48 136.83 278.95 139.20 276.50 C141.57 274.05 144.92 269.78 147.20 267.30 C149.48 264.82 150.77 263.23 152.90 261.60 C155.03 259.97 157.48 258.60 160.00 257.50 C162.52 256.40 165.00 255.78 168.00 255.00 C171.00 254.22 174.67 253.17 178.00 252.80 C181.33 252.43 184.33 252.67 188.00 252.80 C191.67 252.93 193.67 253.43 200.00 253.60 C206.33 253.77 221.67 253.77 226.00 253.80" fill="none" stroke="#ff0d0d" stroke-width="1.8" stroke-linejoin="round"/>
<path d="M28.50 253.50 C28.92 252.20 30.08 248.65 31.00 245.70 C31.92 242.75 33.00 239.08 34.00 235.80 C35.00 232.52 36.00 229.03 37.00 226.00 C38.00 222.97 39.00 219.97 40.00 217.60 C41.00 215.23 42.15 213.47 43.00 211.80 C43.85 210.13 44.27 209.32 45.10 207.60 C45.93 205.88 47.05 203.60 48.00 201.50 C48.95 199.40 49.88 197.17 50.80 195.00 C51.72 192.83 52.53 190.68 53.50 188.50 C54.47 186.32 55.53 183.20 56.60 181.90 C57.67 180.60 58.75 180.43 59.90 180.70 C61.05 180.97 62.48 181.95 63.50 183.50 C64.52 185.05 65.30 187.58 66.00 190.00 C66.70 192.42 67.25 195.83 67.70 198.00 C68.15 200.17 67.98 199.00 68.70 203.00 C69.42 207.00 70.78 215.83 72.00 222.00 C73.22 228.17 74.83 234.67 76.00 240.00 C77.17 245.33 78.00 249.68 79.00 254.00 C80.00 258.32 81.00 262.40 82.00 265.90 C83.00 269.40 84.00 272.60 85.00 275.00 C86.00 277.40 86.83 278.98 88.00 280.30 C89.17 281.62 90.50 282.60 92.00 282.90 C93.50 283.20 95.33 282.55 97.00 282.10 C98.67 281.65 100.50 280.45 102.00 280.20 C103.50 279.95 104.33 280.18 106.00 280.60 C107.67 281.02 109.00 281.87 112.00 282.70 C115.00 283.53 120.50 285.72 124.00 285.60 C127.50 285.48 130.47 283.52 133.00 282.00 C135.53 280.48 136.83 278.95 139.20 276.50 C141.57 274.05 144.92 269.78 147.20 267.30 C149.48 264.82 150.77 263.18 152.90 261.60 C155.03 260.02 157.48 258.87 160.00 257.80 C162.52 256.73 165.00 255.87 168.00 255.20 C171.00 254.53 168.33 254.03 178.00 253.80 C187.67 253.57 218.00 253.80 226.00 253.80" fill="none" stroke="#38c4ec" stroke-width="1.6" stroke-linejoin="round"/>
<rect x="47.4" y="198.0" width="2.2" height="1.4" fill="#333"/>
<rect x="53.2" y="181.3" width="2.2" height="1.4" fill="#333"/>
<rect x="59.7" y="180.7" width="2.2" height="1.4" fill="#333"/>
<rect x="66.1" y="197.3" width="2.2" height="1.4" fill="#333"/>
<rect x="72.4" y="234.5" width="2.2" height="1.4" fill="#333"/>
<rect x="137.9" y="273.3" width="2.2" height="1.4" fill="#333"/>
<rect x="145.9" y="267.3" width="2.2" height="1.4" fill="#333"/>
<rect x="151.9" y="261.3" width="2.2" height="1.4" fill="#333"/>
<rect x="157.9" y="256.3" width="2.2" height="1.4" fill="#333"/>
<rect x="189.9" y="253.1" width="2.2" height="1.4" fill="#333"/>
<rect x="198.9" y="253.1" width="2.2" height="1.4" fill="#333"/>
<rect x="208.9" y="253.1" width="2.2" height="1.4" fill="#333"/>
<rect x="220.9" y="253.1" width="2.2" height="1.4" fill="#333"/>
<rect x="28.4" y="229.5" width="2.2" height="1.4" fill="#333"/>
<rect x="28.4" y="245.0" width="2.2" height="1.4" fill="#333"/>
<rect x="28.4" y="261.3" width="2.2" height="1.4" fill="#333"/>
<line x1="294.1" y1="170.25" x2="294.1" y2="295.65" stroke="#111" stroke-width="1.8"/>
<line x1="293.2" y1="294.75" x2="484" y2="294.75" stroke="#1a1a22" stroke-width="1.45"/>
<line x1="481" y1="170.25" x2="481" y2="295.45" stroke="#222" stroke-width="1.15"/>
<line x1="481" y1="169.5" x2="484" y2="169.5" stroke="#222" stroke-width="1.3"/>
<line x1="481" y1="200.68" x2="484" y2="200.68" stroke="#222" stroke-width="1.3"/>
<line x1="481" y1="231.85" x2="484" y2="231.85" stroke="#222" stroke-width="1.3"/>
<line x1="481" y1="263.02" x2="484" y2="263.02" stroke="#222" stroke-width="1.3"/>
<line x1="481" y1="294.2" x2="484" y2="294.2" stroke="#222" stroke-width="1.3"/>
<text x="284.5" y="179.15" font-size="10.0" text-anchor="end" fill="#1e2b2b" font-family="Liberation Sans, sans-serif" font-weight="bold" textLength="10.45" lengthAdjust="spacingAndGlyphs">15</text>
<text x="284.5" y="203.1" font-size="10.0" text-anchor="end" fill="#1e2b2b" font-family="Liberation Sans, sans-serif" font-weight="bold" textLength="10.45" lengthAdjust="spacingAndGlyphs">10</text>
<text x="284.5" y="227.05" font-size="10.0" text-anchor="end" fill="#1e2b2b" font-family="Liberation Sans, sans-serif" font-weight="bold" textLength="5.23" lengthAdjust="spacingAndGlyphs">5</text>
<text x="284.5" y="251.0" font-size="10.0" text-anchor="end" fill="#1e2b2b" font-family="Liberation Sans, sans-serif" font-weight="bold" textLength="5.23" lengthAdjust="spacingAndGlyphs">0</text>
<text x="284.5" y="274.95" font-size="10.0" text-anchor="end" fill="#1e2b2b" font-family="Liberation Sans, sans-serif" font-weight="bold" textLength="8.36" lengthAdjust="spacingAndGlyphs">-5</text>
<text x="284.5" y="298.9" font-size="10.0" text-anchor="end" fill="#1e2b2b" font-family="Liberation Sans, sans-serif" font-weight="bold" textLength="13.58" lengthAdjust="spacingAndGlyphs">-10</text>
<text x="491.8" y="173.3" font-size="10.0" text-anchor="start" fill="#1e2b2b" font-family="Liberation Sans, sans-serif" font-weight="bold" textLength="15.68" lengthAdjust="spacingAndGlyphs">740</text>
<text x="491.8" y="204.48" font-size="10.0" text-anchor="start" fill="#1e2b2b" font-family="Liberation Sans, sans-serif" font-weight="bold" textLength="15.68" lengthAdjust="spacingAndGlyphs">640</text>
<text x="491.8" y="235.65" font-size="10.0" text-anchor="start" fill="#1e2b2b" font-family="Liberation Sans, sans-serif" font-weight="bold" textLength="15.68" lengthAdjust="spacingAndGlyphs">540</text>
<text x="491.8" y="266.82" font-size="10.0" text-anchor="start" fill="#1e2b2b" font-family="Liberation Sans, sans-serif" font-weight="bold" textLength="15.68" lengthAdjust="spacingAndGlyphs">440</text>
<text x="491.8" y="298.0" font-size="10.0" text-anchor="start" fill="#1e2b2b" font-family="Liberation Sans, sans-serif" font-weight="bold" textLength="15.68" lengthAdjust="spacingAndGlyphs">340</text>
<text x="294.1" y="313.0" font-size="10.0" text-anchor="middle" fill="#1e2b2b" font-family="Liberation Sans, sans-serif" font-weight="bold" textLength="15.68" lengthAdjust="spacingAndGlyphs">170</text>
<text x="378.9" y="313.0" font-size="10.0" text-anchor="middle" fill="#1e2b2b" font-family="Liberation Sans, sans-serif" font-weight="bold" textLength="15.68" lengthAdjust="spacingAndGlyphs">220</text>
<text x="463.9" y="313.0" font-size="10.0" text-anchor="middle" fill="#1e2b2b" font-family="Liberation Sans, sans-serif" font-weight="bold" textLength="15.68" lengthAdjust="spacingAndGlyphs">270</text>
<text x="273.2" y="245.7" font-size="11.6" text-anchor="middle" fill="#1e2b2b" font-family="Liberation Sans, sans-serif" font-weight="bold" transform="rotate(-90 273.2 245.7)">CD (<tspan font-family="Liberation Serif, serif" font-weight="bold" font-size="12">&#916;&#949;</tspan>)</text>
<text x="517.6" y="244" font-size="11.5" text-anchor="middle" fill="#1e2b2b" font-family="Liberation Sans, sans-serif" font-weight="bold" transform="rotate(-90 517.6 244)">HT(V)</text>
<text x="395.5" y="323.6" font-size="11.8" text-anchor="middle" fill="#1e2b2b" font-family="Liberation Sans, sans-serif" font-weight="bold" textLength="90.5" lengthAdjust="spacingAndGlyphs">Wavelength (nm)</text>
<path d="M294.50 244.90 C295.30 243.98 297.55 241.30 299.30 239.40 C301.05 237.50 303.17 235.27 305.00 233.50 C306.83 231.73 308.65 230.87 310.30 228.80 C311.95 226.73 313.53 224.22 314.90 221.10 C316.27 217.98 317.13 215.28 318.50 210.10 C319.87 204.92 321.85 195.18 323.10 190.00 C324.35 184.82 324.78 181.98 326.00 179.00 C327.22 176.02 329.03 172.48 330.40 172.10 C331.77 171.72 333.05 173.40 334.20 176.70 C335.35 180.00 336.28 186.07 337.30 191.90 C338.32 197.73 339.43 205.02 340.30 211.70 C341.17 218.38 341.88 226.12 342.50 232.00 C343.12 237.88 343.42 242.95 344.00 247.00 C344.58 251.05 345.33 252.58 346.00 256.30 C346.67 260.02 347.33 265.38 348.00 269.30 C348.67 273.22 349.17 276.83 350.00 279.80 C350.83 282.77 351.83 285.48 353.00 287.10 C354.17 288.72 355.67 289.37 357.00 289.50 C358.33 289.63 359.67 288.72 361.00 287.90 C362.33 287.08 363.67 285.28 365.00 284.60 C366.33 283.92 367.67 283.65 369.00 283.80 C370.33 283.95 371.50 284.68 373.00 285.50 C374.50 286.32 376.67 287.78 378.00 288.70 C379.33 289.62 379.67 290.85 381.00 291.00 C382.33 291.15 384.22 290.77 386.00 289.60 C387.78 288.43 390.03 286.35 391.70 284.00 C393.37 281.65 394.58 278.30 396.00 275.50 C397.42 272.70 398.48 270.22 400.20 267.20 C401.92 264.18 404.27 260.05 406.30 257.40 C408.33 254.75 410.47 252.82 412.40 251.30 C414.33 249.78 415.97 248.93 417.90 248.30 C419.83 247.67 413.48 247.67 424.00 247.50 C434.52 247.33 471.50 247.33 481.00 247.30" fill="none" stroke="#ff4050" stroke-width="1.3" stroke-linejoin="round"/>
<path d="M294.50 244.90 C295.30 243.98 297.55 241.30 299.30 239.40 C301.05 237.50 303.17 235.27 305.00 233.50 C306.83 231.73 308.65 230.87 310.30 228.80 C311.95 226.73 313.53 224.22 314.90 221.10 C316.27 217.98 317.13 215.28 318.50 210.10 C319.87 204.92 321.85 195.18 323.10 190.00 C324.35 184.82 324.78 181.98 326.00 179.00 C327.22 176.02 329.03 172.48 330.40 172.10 C331.77 171.72 333.05 173.40 334.20 176.70 C335.35 180.00 336.28 186.07 337.30 191.90 C338.32 197.73 339.43 205.02 340.30 211.70 C341.17 218.38 341.88 226.12 342.50 232.00 C343.12 237.88 343.42 242.95 344.00 247.00 C344.58 251.05 345.33 252.58 346.00 256.30 C346.67 260.02 347.33 265.38 348.00 269.30 C348.67 273.22 349.17 276.83 350.00 279.80 C350.83 282.77 351.83 285.48 353.00 287.10 C354.17 288.72 355.67 289.37 357.00 289.50 C358.33 289.63 359.67 288.72 361.00 287.90 C362.33 287.08 363.67 285.28 365.00 284.60 C366.33 283.92 367.67 283.65 369.00 283.80 C370.33 283.95 371.50 284.68 373.00 285.50 C374.50 286.32 376.67 287.78 378.00 288.70 C379.33 289.62 379.67 290.85 381.00 291.00 C382.33 291.15 384.22 290.77 386.00 289.60 C387.78 288.43 390.03 286.35 391.70 284.00 C393.37 281.65 394.58 278.30 396.00 275.50 C397.42 272.70 398.48 270.22 400.20 267.20 C401.92 264.18 404.27 260.05 406.30 257.40 C408.33 254.75 410.47 252.82 412.40 251.30 C414.33 249.78 415.97 248.93 417.90 248.30 C419.83 247.67 413.48 247.67 424.00 247.50 C434.52 247.33 471.50 247.33 481.00 247.30" fill="none" stroke="#1a74ee" stroke-width="1.55" stroke-linejoin="round"/>
<path d="M295.00 175.00 C295.00 180.77 294.83 202.57 295.00 209.60 C295.17 216.63 295.58 214.15 296.00 217.20 C296.42 220.25 297.00 224.85 297.50 227.90 C298.00 230.95 298.33 232.72 299.00 235.50 C299.67 238.28 300.83 242.57 301.50 244.60 C302.17 246.63 302.35 246.58 303.00 247.70 C303.65 248.82 304.23 250.00 305.40 251.30 C306.57 252.60 308.48 254.52 310.00 255.50 C311.52 256.48 312.72 256.92 314.50 257.20 C316.28 257.48 318.90 257.15 320.70 257.20 C322.50 257.25 323.58 257.12 325.30 257.50 C327.02 257.88 329.22 258.58 331.00 259.50 C332.78 260.42 334.00 260.95 336.00 263.00 C338.00 265.05 340.65 268.85 343.00 271.80 C345.35 274.75 347.43 278.40 350.10 280.70 C352.77 283.00 355.45 284.13 359.00 285.60 C362.55 287.07 367.57 288.42 371.40 289.50 C375.23 290.58 378.47 291.52 382.00 292.10 C385.53 292.68 385.27 292.85 392.60 293.00 C399.93 293.15 418.38 293.10 426.00 293.00 C433.62 292.90 432.10 292.77 438.30 292.40 C444.50 292.03 456.08 291.30 463.20 290.80 C470.32 290.30 478.03 289.63 481.00 289.40" fill="none" stroke="#3a7cf0" stroke-width="1.3" stroke-dasharray="5.6 4.9" stroke-dashoffset="2" transform="translate(0 0.6)" stroke-linejoin="round"/>
<path d="M295.00 175.00 C295.00 180.77 294.83 202.57 295.00 209.60 C295.17 216.63 295.58 214.15 296.00 217.20 C296.42 220.25 297.00 224.85 297.50 227.90 C298.00 230.95 298.33 232.72 299.00 235.50 C299.67 238.28 300.83 242.57 301.50 244.60 C302.17 246.63 302.35 246.58 303.00 247.70 C303.65 248.82 304.23 250.00 305.40 251.30 C306.57 252.60 308.48 254.52 310.00 255.50 C311.52 256.48 312.72 256.92 314.50 257.20 C316.28 257.48 318.90 257.15 320.70 257.20 C322.50 257.25 323.58 257.12 325.30 257.50 C327.02 257.88 329.22 258.58 331.00 259.50 C332.78 260.42 334.00 260.95 336.00 263.00 C338.00 265.05 340.65 268.85 343.00 271.80 C345.35 274.75 347.43 278.40 350.10 280.70 C352.77 283.00 355.45 284.13 359.00 285.60 C362.55 287.07 367.57 288.42 371.40 289.50 C375.23 290.58 378.47 291.52 382.00 292.10 C385.53 292.68 385.27 292.85 392.60 293.00 C399.93 293.15 418.38 293.10 426.00 293.00 C433.62 292.90 432.10 292.77 438.30 292.40 C444.50 292.03 456.08 291.30 463.20 290.80 C470.32 290.30 478.03 289.63 481.00 289.40" fill="none" stroke="#ff2a40" stroke-width="1.3" stroke-dasharray="5.6 4.9" stroke-dashoffset="2" transform="translate(0 -0.7)" stroke-linejoin="round"/>
<path d="M295.00 175.00 C295.00 180.77 294.83 202.57 295.00 209.60 C295.17 216.63 295.58 214.15 296.00 217.20 C296.42 220.25 297.00 224.85 297.50 227.90 C298.00 230.95 298.33 232.72 299.00 235.50 C299.67 238.28 300.83 242.57 301.50 244.60 C302.17 246.63 302.35 246.58 303.00 247.70 C303.65 248.82 304.23 250.00 305.40 251.30 C306.57 252.60 308.48 254.52 310.00 255.50 C311.52 256.48 312.72 256.92 314.50 257.20 C316.28 257.48 318.90 257.15 320.70 257.20 C322.50 257.25 323.58 257.12 325.30 257.50 C327.02 257.88 329.22 258.58 331.00 259.50 C332.78 260.42 334.00 260.95 336.00 263.00 C338.00 265.05 340.65 268.85 343.00 271.80 C345.35 274.75 347.43 278.40 350.10 280.70 C352.77 283.00 355.45 284.13 359.00 285.60 C362.55 287.07 367.57 288.42 371.40 289.50 C375.23 290.58 378.47 291.52 382.00 292.10 C385.53 292.68 385.27 292.85 392.60 293.00 C399.93 293.15 418.38 293.10 426.00 293.00 C433.62 292.90 432.10 292.77 438.30 292.40 C444.50 292.03 456.08 291.30 463.20 290.80 C470.32 290.30 478.03 289.63 481.00 289.40" fill="none" stroke="#13286e" stroke-width="1.3" stroke-dasharray="5.6 4.9" stroke-dashoffset="2" stroke-linejoin="round"/>
<path d="M295.6 176 L296 206" stroke="#ff2030" stroke-width="1.6" stroke-dasharray="6 3.5" fill="none"/>
<line x1="31" y1="88.3" x2="228.5" y2="88.3" stroke="#151515" stroke-width="1.1"/>
<line x1="293.5" y1="83.9" x2="478.5" y2="83.9" stroke="#151515" stroke-width="1.1"/>
<line x1="28.5" y1="254" x2="226" y2="254" stroke="#151515" stroke-width="1.1"/>
<line x1="294.1" y1="246.9" x2="481" y2="246.9" stroke="#151515" stroke-width="1.1"/>
</svg>
</body></html>
